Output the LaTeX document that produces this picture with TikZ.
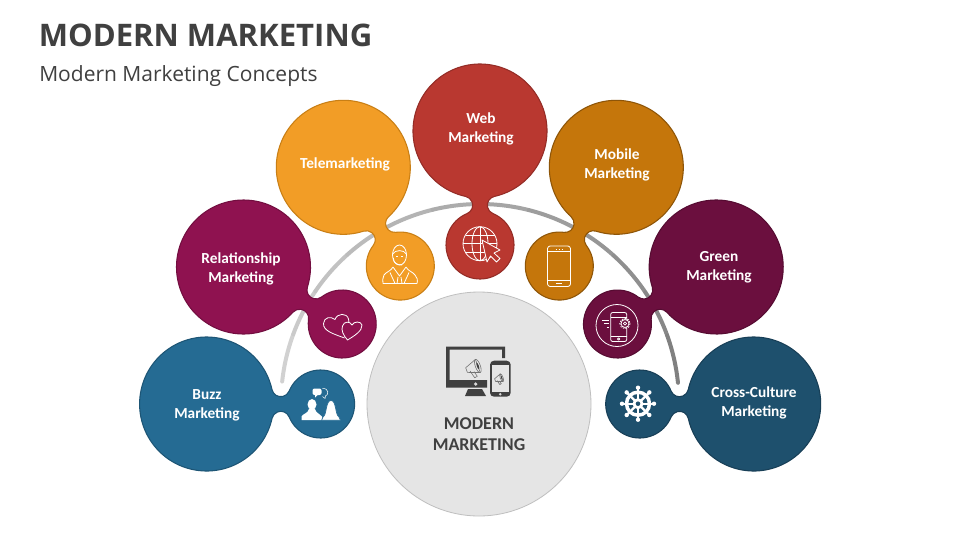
\documentclass[tikz,border=0pt]{standalone}
\usepackage{fontspec}
\setmainfont{Carlito}
\newfontfamily\headfont{Open Sans}
\definecolor{buzzcol}{HTML}{256B93}
\definecolor{buzzline}{HTML}{1D5575}
\definecolor{relcol}{HTML}{8F1250}
\definecolor{relline}{HTML}{730E40}
\definecolor{telecol}{HTML}{F29D26}
\definecolor{teleline}{HTML}{C97F15}
\definecolor{webcol}{HTML}{B93830}
\definecolor{webline}{HTML}{942C26}
\definecolor{mobcol}{HTML}{C5760B}
\definecolor{mobline}{HTML}{8E5508}
\definecolor{greencol}{HTML}{6B0F3E}
\definecolor{greenline}{HTML}{560C32}
\definecolor{crosscol}{HTML}{1E506D}
\definecolor{crossline}{HTML}{183F57}
\definecolor{inkcol}{HTML}{404040}
\tikzset{
  lbl/.style={font=\bfseries\fontsize{11.5}{14.2}\selectfont,text=white,align=center},
  icon/.style={draw=white,line width=0.6pt,line join=round},
  arcline/.style={line width=3pt,line cap=round},
}
% big circle, neck and small circle: #1/#2 big centre, #3 direction, #4 fill, #5 edge
\newcommand{\blob}[5]{
\begin{scope}[shift={(#1,#2)},rotate=#3]
\draw[fill=#4,draw=#5,line width=0.8pt] (12.4:67) arc[start angle=12.4,end angle=347.6,radius=67pt]
  arc[start angle=167.6,end angle=22.3,radius=9pt]
  arc[start angle=202.3,end angle=517.7,radius=34pt]
  arc[start angle=-22.3,end angle=-167.6,radius=9pt] -- cycle;
\end{scope}
}
\begin{document}
\begin{tikzpicture}[x=1pt,y=1pt,xscale=0.75,yscale=-0.75]
\useasboundingbox (0,0) rectangle (960,540);
\fill[white] (0,0) rectangle (960,540);

\node[font=\headfont\bfseries\fontsize{23.3}{28}\selectfont,text=inkcol,anchor=base west,inner sep=0pt] (title) at (38.5,46) {MODERN MARKETING};
\node[font=\headfont\fontsize{15.75}{18}\selectfont,text=inkcol,anchor=base west,inner sep=0pt] (subtitle) at (39,81) {Modern Marketing Concepts};

% grey arc behind the bubbles
\begin{scope}[shift={(480,403)}]
\foreach \i in {0,...,11}{
  \pgfmathsetmacro{\ang}{186.2+\i*14}
  \pgfmathsetmacro{\shd}{18+\i*2.9}
  \draw[arcline,black!\shd] (\ang:199) arc[start angle=\ang,delta angle=13.97,radius=199pt];
}
\end{scope}

\blob{206.6}{404}{0}{buzzcol}{buzzline}
\blob{243.5}{267}{30}{relcol}{relline}
\blob{343.3}{167.3}{60}{telecol}{teleline}
\blob{480}{131}{90}{webcol}{webline}
\blob{616.3}{167.3}{120}{mobcol}{mobline}
\blob{716.2}{267}{150}{greencol}{greenline}
\blob{753.7}{404}{180}{crosscol}{crossline}

\draw[fill=black!10,draw=black!25,line width=0.6pt] (479,404) circle[radius=112pt];

\node[lbl] (buzz) at (207,405.5) {Buzz\\Marketing};
\node[lbl] (rel) at (241,268.5) {Relationship\\Marketing};
\node[lbl] (tele) at (345,164) {Telemarketing};
\node[lbl] (web) at (481,128.5) {Web\\Marketing};
\node[lbl] (mob) at (617,164.5) {Mobile\\Marketing};
\node[lbl] (green) at (719,267.5) {Green\\Marketing};
\node[lbl] (cross) at (754,402.5) {Cross-Culture\\Marketing};
\node[font=\bfseries\fontsize{13.5}{15.8}\selectfont,text=inkcol,align=center] (main) at (479,434.5) {MODERN\\MARKETING};

% buzz icon
\fill[white] (312,404.5) ellipse[x radius=4.5pt,y radius=5.5pt];
\fill[white] (301.5,420) -- (301.5,416.5) .. controls (303,413.5) and (308,413.5) .. (309,409) -- (315,409) .. controls (316,413.5) and (320,413.5) .. (322,416.5) -- (322,420) -- cycle;
\draw[fill=white,draw=buzzcol,line width=0.5pt] (321.5,420.3) -- (323,417) .. controls (327,415) and (325.5,400.5) .. (331,400.5) .. controls (336.5,400.5) and (335,415) .. (339,417) -- (340.5,420.3) -- cycle;
\fill[white,rounded corners=1.5pt] (312.5,388.5) rectangle (321.5,395);
\fill[white] (315,394) -- (315,397.5) -- (318.5,394) -- cycle;
\draw[icon,line width=0.4pt] (322.5,388.5) .. controls (329,388) and (329,395) .. (325.5,396) -- (325,398.5) -- (322.5,396.5);

% hearts
\draw[icon] (344.5,338) .. controls (334,334) and (323,331) .. (323.5,323.5) .. controls (324,317) and (331,316) .. (335,319.5) .. controls (337,313) and (347,312.5) .. (348.5,319) -- (349,323);
\draw[icon,fill=relcol] (347.5,340) .. controls (343,335) and (341,330) .. (342.5,326) .. controls (344,321) and (350,321) .. (352,325) .. controls (354,321) and (361,321) .. (362,325) .. controls (362.5,331) and (354,336) .. (347.5,340) -- cycle;

% agent with headset
\draw[icon] (399.5,255) ellipse[x radius=7pt,y radius=10pt];
\draw[icon] (392.7,254) .. controls (395,249.5) and (404,249.5) .. (406.3,254);
\draw[icon] (396,256.5) -- (398,256.5) (401,256.5) -- (403,256.5);
\draw[icon] (393.5,258) .. controls (393,262) and (396,265) .. (402,265);
\draw[icon] (393,267) .. controls (391,271) and (386,272) .. (384,275) .. controls (383,278) and (382,281) .. (383,283.5) -- (417,283.5) .. controls (418,280) and (417,277) .. (415,275) .. controls (413,272) and (408,271) .. (406,267);
\draw[icon] (393,267) -- (399.5,276) -- (406,267);
\draw[icon] (398,277) -- (397,283.5) (401,277) -- (402,283.5);
\draw[icon] (390,272.5) -- (395,283.5) (409,272.5) -- (404,283.5);

% globe and cursor
\draw[icon] (480,243.7) circle[radius=17pt];
\draw[icon] (480,243.7) ellipse[x radius=8pt,y radius=17pt];
\draw[icon] (480,226.7) -- (480,260.7) (463,243.7) -- (497,243.7);
\draw[icon] (465.5,235) -- (494.5,235) (465.5,252.4) -- (494.5,252.4);
\draw[icon,fill=webcol] (482,240) -- (500,250) -- (494,253) -- (500,258.5) -- (496.5,262) -- (490.5,256) -- (487,262) -- cycle;

% phone
\draw[icon,rounded corners=2pt] (547.5,246) rectangle (570.5,286.5);
\draw[icon] (547.5,251.7) -- (570.5,251.7) (547.5,280) -- (570.5,280);
\draw[icon] (555.5,249) -- (556.5,249) (558.5,249) -- (559.5,249) (561.5,249) -- (562.5,249);
\draw[icon] (556,283.3) -- (562,283.3);

% phone with gear
\draw[icon] (617,325.5) circle[radius=21pt];
\draw[icon,rounded corners=1.5pt] (610.7,312.5) rectangle (626.7,341.5);
\draw[icon] (610.7,317) -- (626.7,317) (610.7,336.5) -- (626.7,336.5);
\draw[icon] (602,320.5) -- (608.5,320.5) (604,323.5) -- (608.5,323.5) (606.5,327) -- (608.5,327);
\draw[icon,fill=greencol] (625,323.5) circle[radius=4pt];
\draw[icon,dashed,dash pattern=on 1.2pt off 1pt] (625,323.5) circle[radius=5.2pt];
\draw[icon] (625,323.5) circle[radius=1.6pt];
\draw[icon] (618.7,339) circle[radius=1.2pt];

% ship wheel
\draw[white,line width=2.6pt] (638,403.7) circle[radius=11.5pt];
\foreach \ang in {0,45,...,315}{
  \draw[white,line width=1.7pt] (638,403.7) -- ++(\ang:15.5);
  \fill[white] (638,403.7) ++(\ang:16) circle[radius=2.2pt];
}
\fill[white] (638,403.7) circle[radius=5.5pt];
\fill[crosscol] (638,403.7) circle[radius=2.3pt];

% monitor and phone in the middle
\fill[inkcol] (446,346.7) -- (505,346.7) -- (505,358) -- (502,358) -- (502,349.5) -- (449.5,349.5) -- (449.5,380) -- (487,380) -- (487,387.7) -- (446,387.7) -- cycle;
\fill[inkcol] (468,389) -- (482,389) -- (486,396) -- (465,396) -- cycle;
\fill[white!85!black] (475.7,384) circle[radius=1.8pt];
\fill[inkcol,rounded corners=3pt] (490,360.7) rectangle (510.7,396.7);
\fill[black!10] (492,365) rectangle (508.7,391.7);
\fill[white!85!black] (500.3,394.2) circle[radius=1.4pt];
\foreach \mx/\my/\ms in {475/367/1,500/378.3/0.58}{
  \begin{scope}[shift={(\mx,\my)},scale=\ms,rotate=-20]
  \draw[black!55,line width=0.45pt,line join=round] (-9,-2.5) -- (3,-7) -- (3,7) -- (-9,2.5) -- cycle;
  \draw[black!55,line width=0.45pt,line join=round] (-6,2) -- (-4,10) -- (-1,9.5) -- (-2.5,4);
  \draw[black!55,line width=0.45pt] (3,0) ellipse[x radius=2.5pt,y radius=7pt];
  \fill[inkcol] (3,0) ellipse[x radius=1pt,y radius=3.5pt];
  \end{scope}
}
\end{tikzpicture}
\end{document}
